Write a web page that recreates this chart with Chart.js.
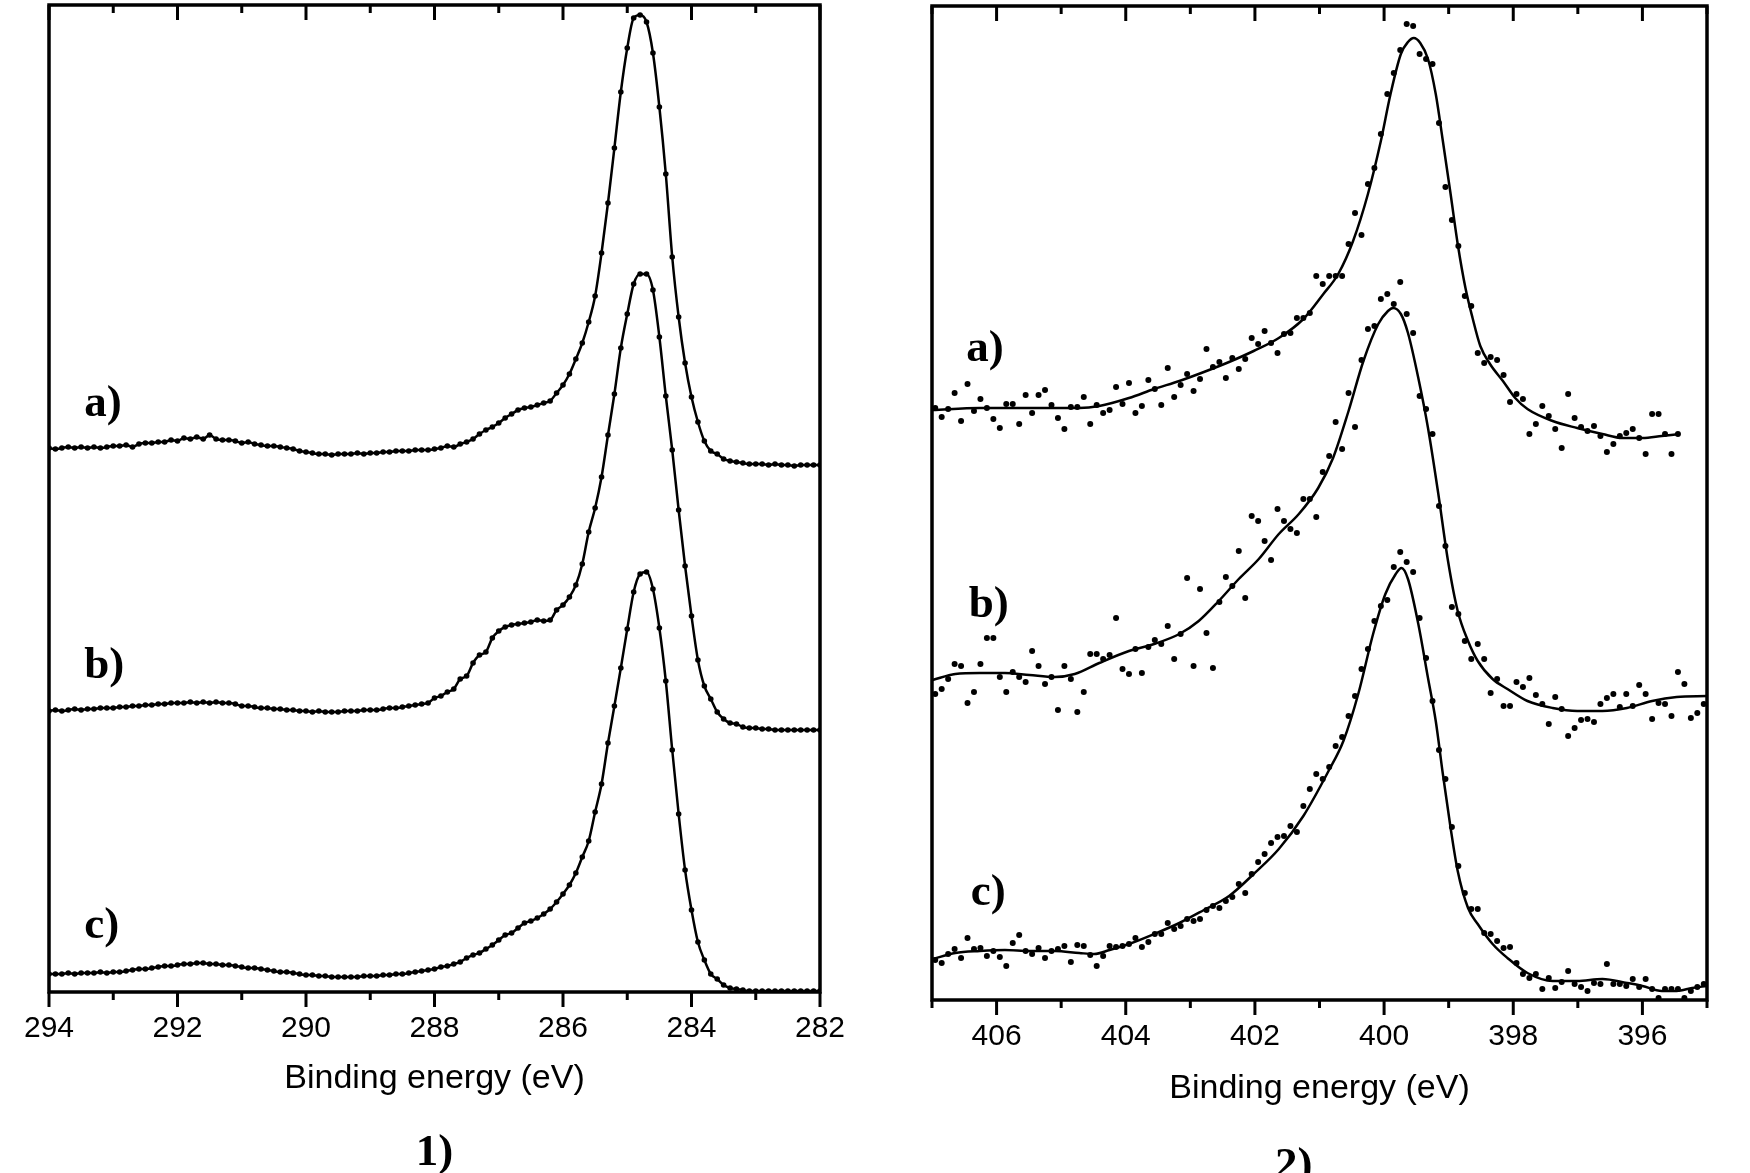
<!DOCTYPE html>
<html><head><meta charset="utf-8">
<script src="https://cdn.jsdelivr.net/npm/chart.js@4.4.0/dist/chart.umd.min.js"></script>
<style>
html,body{margin:0;padding:0;background:#fff;overflow:hidden;}
#wrap{position:relative;width:1750px;height:1173px;background:#fff;}
canvas{position:absolute;top:0;}
</style></head><body>
<div id="wrap">
<canvas id="c1" width="875" height="1173" style="left:0;width:875px;height:1173px"></canvas>
<canvas id="c2" width="875" height="1173" style="left:875px;width:875px;height:1173px"></canvas>
</div>
<script>
// ---------- Panel 1 (C 1s): binding energy grid (eV) ----------
const E1 = [294.0,293.9,293.8,293.7,293.6,293.5,293.4,293.3,293.2,293.1,
293.0,292.9,292.8,292.7,292.6,292.5,292.4,292.3,292.2,292.1,
292.0,291.9,291.8,291.7,291.6,291.5,291.4,291.3,291.2,291.1,
291.0,290.9,290.8,290.7,290.6,290.5,290.4,290.3,290.2,290.1,
290.0,289.9,289.8,289.7,289.6,289.5,289.4,289.3,289.2,289.1,
289.0,288.9,288.8,288.7,288.6,288.5,288.4,288.3,288.2,288.1,
288.0,287.9,287.8,287.7,287.6,287.5,287.4,287.3,287.2,287.1,
287.0,286.9,286.8,286.7,286.6,286.5,286.4,286.3,286.2,286.1,
286.0,285.9,285.8,285.7,285.6,285.5,285.4,285.3,285.2,285.1,
285.0,284.9,284.8,284.7,284.6,284.5,284.4,284.3,284.2,284.1,
284.0,283.9,283.8,283.7,283.6,283.5,283.4,283.3,283.2,283.1,
283.0,282.9,282.8,282.7,282.6,282.5,282.4,282.3,282.2,282.1,
282.0];
// intensities (a.u.), stacked spectra a), b), c)
const C1a = [544,543,544,545,544,545,544,545,544,545,
546,546,547,545,548,549,549,550,550,552,
551,554,553,555,553,557,553,552,552,551,
549,550,548,547,546,546,545,544,543,541,
540,539,538,538,537,538,538,538,539,538,
539,539,540,540,541,541,541,542,542,542,
543,544,546,545,548,550,553,558,562,565,
569,574,578,582,584,585,587,589,591,599,
607,618,633,649,670,696,739,789,844,900,
944,974,977,970,939,885,818,735,675,629,
595,570,551,541,538,533,531,530,529,528,
528,528,527,528,527,527,526,527,527,527,
527];
const C1b = [281,282,281,282,283,282,283,283,284,284,
284,285,285,286,286,287,287,288,288,289,
289,289,290,289,290,289,290,289,289,288,
286,286,285,284,284,283,283,282,282,281,
281,280,281,280,280,280,281,281,281,282,
282,282,283,284,284,285,286,287,288,289,
294,296,300,303,313,316,329,337,340,354,
361,365,367,368,369,370,372,371,372,382,
387,395,407,428,460,484,515,557,598,644,
678,708,718,718,702,655,596,542,482,426,
376,332,306,293,280,273,269,268,265,264,
264,263,263,262,262,262,262,262,262,262,
262];
const C1c = [18,18,18,19,18,19,19,19,20,19,
20,20,21,22,23,23,24,25,26,26,
27,28,28,29,29,28,28,27,27,26,
25,24,24,23,22,21,20,20,19,18,
17,17,16,16,15,15,15,15,15,16,
16,16,17,17,18,18,19,20,21,22,
23,25,26,28,30,34,37,39,43,47,
52,57,59,64,69,71,74,78,83,90,
98,107,119,135,151,180,208,249,286,324,
363,400,418,420,403,364,311,242,178,122,
82,50,32,18,13,7,4,3,2,1,
1,1,1,1,1,1,1,1,1,1,
1];

// ---------- Panel 2 (N 1s): measured points ----------
const E2 = [406.95,406.85,406.75,406.65,406.55,406.45,406.35,406.25,406.15,406.05,
405.95,405.85,405.75,405.65,405.55,405.45,405.35,405.25,405.15,405.05,
404.95,404.85,404.75,404.65,404.55,404.45,404.35,404.25,404.15,404.05,
403.95,403.85,403.75,403.65,403.55,403.45,403.35,403.25,403.15,403.05,
402.95,402.85,402.75,402.65,402.55,402.45,402.35,402.25,402.15,402.05,
401.95,401.85,401.75,401.65,401.55,401.45,401.35,401.25,401.15,401.05,
400.95,400.85,400.75,400.65,400.55,400.45,400.35,400.25,400.15,400.05,
399.95,399.85,399.75,399.65,399.55,399.45,399.35,399.25,399.15,399.05,
398.95,398.85,398.75,398.65,398.55,398.45,398.35,398.25,398.15,398.05,
397.95,397.85,397.75,397.65,397.55,397.45,397.35,397.25,397.15,397.05,
396.95,396.85,396.75,396.65,396.55,396.45,396.35,396.25,396.15,396.05,
395.95,395.85,395.75,395.65,395.55,395.45,395.35,395.25,395.15,395.05];
const P2a = [592,583,591,607,579,616,589,601,592,581,
572,596,596,576,605,587,605,610,595,582,
571,593,593,603,576,595,587,590,613,596,
617,587,594,620,611,595,632,603,615,626,
609,621,651,633,638,622,642,631,641,662,
656,669,657,647,666,667,682,682,687,724,
716,724,724,724,756,787,765,816,832,866,
906,927,950,976,974,946,941,936,877,813,
780,754,704,694,647,637,643,640,625,598,
606,601,566,576,594,584,571,552,606,582,
573,569,574,564,548,556,564,567,571,562,
546,586,586,566,546,566,null,null,null,null];
const P2b = [306,311,321,336,334,297,308,336,362,362,
323,308,328,323,318,349,334,316,323,290,
334,321,288,308,346,346,341,345,382,331,
326,351,327,353,360,356,374,341,366,422,
334,411,367,332,398,423,414,449,402,484,
479,459,440,491,479,471,467,501,501,483,
528,544,578,551,607,573,640,671,674,701,
706,696,718,686,667,604,591,566,494,454,
393,386,359,341,356,341,307,321,294,294,
318,313,322,305,296,276,303,291,264,272,
280,281,278,296,302,306,293,306,294,315,
306,281,297,296,284,328,316,282,287,296];
const P2c = [40,37,46,51,42,62,51,52,44,49,
43,34,57,65,49,46,52,42,49,51,
54,38,55,54,45,34,44,54,53,54,
56,62,53,58,66,66,77,71,74,81,
79,81,90,94,92,99,103,116,107,126,
138,146,157,163,164,174,168,194,211,226,
221,233,254,263,284,304,331,351,379,394,
400,433,448,438,428,382,342,299,250,221,
173,134,107,91,91,67,66,59,52,53,
37,26,22,26,11,22,12,18,29,16,
13,9,17,16,36,16,16,14,21,13,
21,11,2,11,11,11,2,9,13,16];

// ---------- Panel 2: fitted curves ----------
const FitA_E = [406.99,406.26,405.49,404.72,404.41,403.95,403.56,403.17,402.79,402.40,
402.02,401.63,401.25,400.94,400.71,400.48,400.25,400.05,399.90,399.74,
399.63,399.54,399.44,399.32,399.20,399.09,398.97,398.86,398.74,398.63,
398.51,398.36,398.16,397.97,397.78,397.39,397.01,396.62,396.31,396.00,
395.70,395.43];
const FitA_I = [590,592,592,592,594,602,611,619,628,638,
649,662,681,706,726,759,806,859,906,946,
958,962,957,941,906,859,806,756,712,682,
654,636,619,602,591,579,572,566,562,562,
564,566];
const FitB_E = [406.99,406.64,406.26,405.87,405.49,405.10,404.79,404.41,403.95,403.56,
403.17,402.87,402.56,402.25,401.94,401.63,401.32,401.02,400.79,400.55,
400.32,400.09,399.94,399.86,399.74,399.63,399.47,399.32,399.16,399.01,
398.86,398.70,398.55,398.32,398.09,397.78,397.39,397.01,396.62,396.24,
395.85,395.47,395.00];
const FitB_I = [320,326,327,327,325,323,326,337,349,356,
366,379,399,421,441,466,486,512,542,589,
639,676,689,692,686,667,622,572,506,439,
389,359,339,321,311,299,292,289,289,292,
299,303,304];
const FitC_E = [406.99,406.64,406.26,405.87,405.49,405.10,404.72,404.49,404.25,403.95,
403.56,403.17,402.79,402.40,402.02,401.63,401.25,400.86,400.63,400.40,
400.17,399.98,399.82,399.73,399.63,399.47,399.32,399.20,399.09,398.97,
398.86,398.70,398.55,398.32,398.09,397.78,397.39,397.01,396.62,396.24,
396.00,395.70,395.47,395.23,395.00];
const FitC_I = [41,47,49,50,49,49,47,46,50,56,
66,77,90,104,126,151,184,229,259,306,
366,406,426,432,421,376,322,279,226,172,
129,92,76,56,42,27,19,19,21,17,
14,9,9,12,14];

// ---------- tick labels and texts ----------
const TICKS1 = [294, 292, 290, 288, 286, 284, 282];
const TICKS2 = [406, 404, 402, 400, 398, 396];
const X_TITLE = 'Binding energy (eV)';
const CURVE_LABELS = ['a)', 'b)', 'c)'];
const PANEL_LABELS = ['1)', '2)'];

// ---------- helpers ----------
const SANS = '"Liberation Sans", Arial, Helvetica, sans-serif';
const SERIF = '"Liberation Serif", "Times New Roman", Times, serif';
const pts = (xs, ys) => xs.map((x, i) => ({x: x, y: ys[i]}));

const framePlugin = {
  id: 'frame',
  afterDraw(chart, args, opts) {
    const {ctx, chartArea: a} = chart;
    const x = chart.scales.x, y = chart.scales.y;
    ctx.save();
    ctx.strokeStyle = '#000';
    ctx.lineWidth = 3.5;
    ctx.strokeRect(a.left, a.top, a.right - a.left, a.bottom - a.top);
    ctx.lineWidth = 3;
    ctx.lineCap = 'butt';
    for (let v = Math.ceil(x.min); v <= x.max + 1e-9; v++) {
      const px = x.getPixelForValue(v);
      const len = (v % 2 === 0) ? 15 : 8;
      ctx.beginPath(); ctx.moveTo(px, a.bottom); ctx.lineTo(px, a.bottom + len); ctx.stroke();
      ctx.beginPath(); ctx.moveTo(px, a.top); ctx.lineTo(px, a.top + len); ctx.stroke();
    }
    ctx.fillStyle = '#000';
    ctx.font = 'bold 45px ' + SERIF;
    ctx.textBaseline = 'alphabetic';
    ctx.textAlign = 'left';
    opts.labels.forEach(l => ctx.fillText(l.text, x.getPixelForValue(l.x), y.getPixelForValue(l.y)));
    ctx.textAlign = 'center';
    ctx.fillText(opts.panel.text, x.getPixelForValue(opts.panel.x), a.bottom + opts.panel.dy);
    ctx.restore();
  }
};

function lineDS(xs, ys, pr) {
  return {data: pts(xs, ys), borderColor: '#000', backgroundColor: '#000', borderWidth: 2.5,
    pointRadius: pr, pointBackgroundColor: '#000', pointBorderWidth: 0, pointHoverRadius: pr,
    cubicInterpolationMode: 'monotone', fill: false, spanGaps: false};
}
function dotDS(xs, ys) {
  return {data: pts(xs, ys), showLine: false, borderColor: '#000', backgroundColor: '#000',
    pointRadius: 3, pointBackgroundColor: '#000', pointBorderWidth: 0, pointHoverRadius: 3};
}

function makeChart(id, c) {
  return new Chart(document.getElementById(id), {
    type: 'line',
    data: {datasets: c.datasets},
    options: {
      responsive: false, animation: false, devicePixelRatio: 1,
      events: [],
      layout: {padding: c.padding},
      plugins: {legend: {display: false}, tooltip: {enabled: false}, frame: c.frame},
      scales: {
        x: {type: 'linear', min: c.xmin, max: c.xmax, reverse: true,
          grid: {display: false, drawTicks: false}, border: {display: false},
          afterBuildTicks: s => { s.ticks = c.ticks.map(v => ({value: v})); },
          ticks: {maxRotation: 0, autoSkip: false,
            padding: 19, color: '#000', font: {family: SANS, size: 30}},
          title: {display: true, text: X_TITLE, color: '#000',
            font: {family: SANS, size: 34}, padding: {top: 0, bottom: 0}},
          afterFit: s => { s.height = c.axisH; }
        },
        y: {display: false, min: 0, max: c.ymax}
      }
    },
    plugins: [framePlugin]
  });
}

makeChart('c1', {
  xmin: 282, xmax: 294, ymax: 987, axisH: 107.5, ticks: TICKS1,
  padding: {left: 49, right: 55, top: 5, bottom: 73.5},
  datasets: [lineDS(E1, C1a, 2.8), lineDS(E1, C1b, 2.8), lineDS(E1, C1c, 2.8)],
  frame: {
    labels: [{text: CURVE_LABELS[0], x: 293.45, y: 576}, {text: CURVE_LABELS[1], x: 293.45, y: 314}, {text: CURVE_LABELS[2], x: 293.45, y: 54}],
    panel: {text: PANEL_LABELS[0], x: 288, dy: 173}
  }
});

makeChart('c2', {
  xmin: 395, xmax: 407, ymax: 994, axisH: 109.5, ticks: TICKS2,
  padding: {left: 57, right: 43, top: 6, bottom: 63.5},
  datasets: [
    lineDS(FitA_E, FitA_I, 0), lineDS(FitB_E, FitB_I, 0), lineDS(FitC_E, FitC_I, 0),
    dotDS(E2, P2a), dotDS(E2, P2b), dotDS(E2, P2c)
  ],
  frame: {
    labels: [{text: CURVE_LABELS[0], x: 406.47, y: 639}, {text: CURVE_LABELS[1], x: 406.43, y: 383}, {text: CURVE_LABELS[2], x: 406.40, y: 95}],
    panel: {text: PANEL_LABELS[1], x: 401.4, dy: 178}
  }
});
</script>
</body></html>
